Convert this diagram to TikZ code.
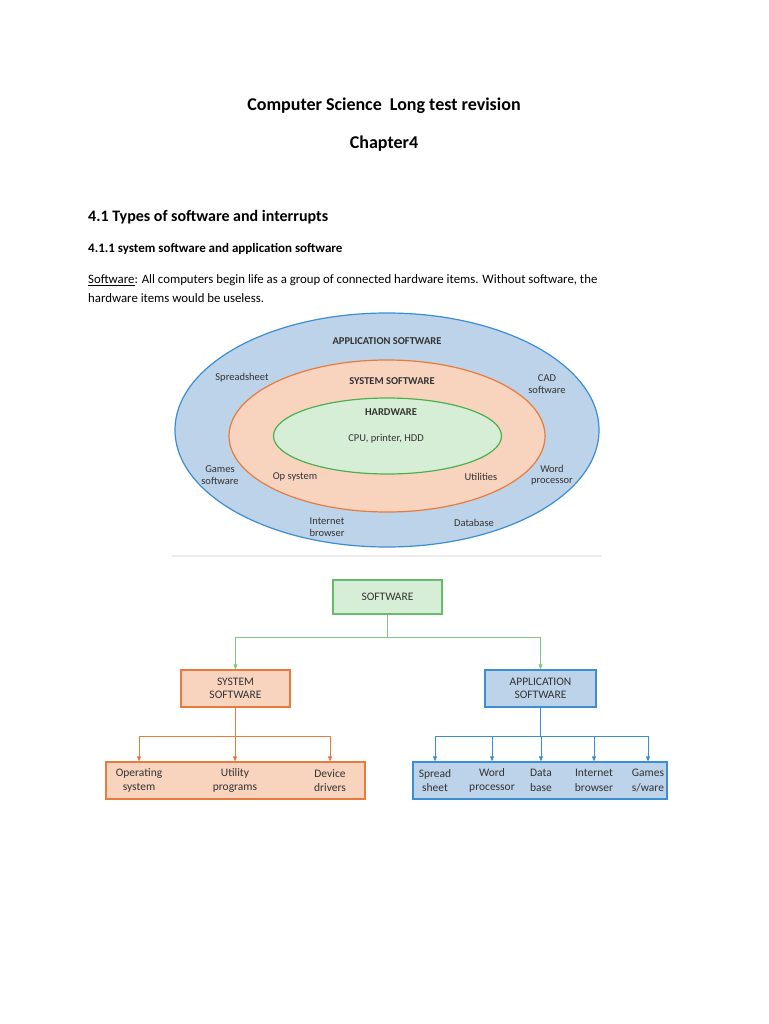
\documentclass[tikz,border=0pt]{standalone}
\usepackage{fontspec}
\setmainfont{Carlito}
\usetikzlibrary{arrows.meta}
\definecolor{bfill}{HTML}{BDD3EA}\definecolor{bline}{HTML}{3B8ED0}
\definecolor{ofill}{HTML}{F8D3BE}\definecolor{oline}{HTML}{E87A3E}
\definecolor{gfill}{HTML}{D6EDD6}\definecolor{gline}{HTML}{4CB050}
\definecolor{txt}{HTML}{333333}
\tikzset{
 lab/.style={font=\fontsize{10.5}{11.5}\selectfont,text=txt,align=center,inner sep=0},
 blab/.style={font=\fontsize{10.5}{12}\selectfont\bfseries,text=txt,inner sep=0},
 tbox/.style={draw,line width=1.2pt,font=\fontsize{11.5}{13}\selectfont,text=txt,align=center,inner sep=0},
 blab2/.style={font=\fontsize{11.5}{14.5}\selectfont,text=txt,align=center,inner sep=0},
 conn/.style={line width=0.8pt,-{Triangle[length=5pt,width=4pt]}},
 plain/.style={line width=0.8pt}
}
\begin{document}
\begin{tikzpicture}[x=1pt,y=-1pt]
\useasboundingbox[fill=white] (0,0) rectangle (768,1024);
\node[font=\fontsize{18}{20}\selectfont\bfseries] (t1) at (384,106) {Computer Science\ \ Long test revision};
\node[font=\fontsize{18}{20}\selectfont\bfseries] (t2) at (384,144) {Chapter4};
\node[font=\fontsize{16}{18}\selectfont\bfseries,anchor=west,inner sep=0] (h1) at (88,217) {4.1 Types of software and interrupts};
\node[font=\fontsize{13}{15}\selectfont\bfseries,anchor=west,inner sep=0] (h2) at (88,249) {4.1.1 system software and application software};
\node[font=\fontsize{12.8}{15}\selectfont,anchor=west,inner sep=0] (p1) at (88,280) {\underline{Software}: All computers begin life as a group of connected hardware items. Without software, the};
\node[font=\fontsize{12.8}{15}\selectfont,anchor=west,inner sep=0] (p2) at (88,298) {hardware items would be useless.};
% ellipses
\draw[bline,fill=bfill,line width=1.2pt] (387,430) ellipse [x radius=212,y radius=117];
\draw[oline,fill=ofill,line width=1.2pt] (387,436) ellipse [x radius=158,y radius=76];
\draw[gline,fill=gfill,line width=1.2pt] (387.5,436) ellipse [x radius=114,y radius=38];
\draw[black!8,line width=1.5pt] (172,556) -- (602,556);
\node[blab] (a1) at (387,341) {APPLICATION SOFTWARE};
\node[lab] (a2) at (242,378) {Spreadsheet};
\node[blab] (a3) at (392,381) {SYSTEM SOFTWARE};
\node[lab] (a4) at (547,384) {CAD\\software};
\node[blab] (a5) at (391,412) {HARDWARE};
\node[lab] (a6) at (386,439) {CPU, printer, HDD};
\node[lab] (a7) at (220,475) {Games\\software};
\node[lab] (a8) at (295,477) {Op system};
\node[lab] (a9) at (481,477) {Utilities};
\node[lab] (a10) at (552,475) {Word\\processor};
\node[lab] (a11) at (327,527) {Internet\\browser};
\node[lab] (a12) at (474,523) {Database};
% tree
\node[tbox,draw=gline!85,fill=gfill,minimum width=109,minimum height=34] (sw) at (387.5,597) {SOFTWARE};
\node[tbox,draw=oline,fill=ofill,minimum width=109,minimum height=37] (ss) at (235.5,688.5) {SYSTEM\\SOFTWARE};
\node[tbox,draw=bline,fill=bfill,minimum width=111,minimum height=37] (as) at (540.5,688.5) {APPLICATION\\SOFTWARE};
\node[tbox,draw=oline,fill=ofill,minimum width=259,minimum height=37] (ob) at (235.5,780.5) {};
\node[tbox,draw=bline,fill=bfill,minimum width=254,minimum height=37] (bb) at (540,780.5) {};
\node[blab2] (o1) at (139,780.5) {Operating\\system};
\node[blab2] (o2) at (235,780.5) {Utility\\programs};
\node[blab2] (o3) at (330,780.5) {Device\\drivers};
\node[blab2] (b1) at (435,780.5) {Spread\\sheet};
\node[blab2] (b2) at (492,780.5) {Word\\processor};
\node[blab2] (b3) at (541,780.5) {Data\\base};
\node[blab2] (b4) at (594,780.5) {Internet\\browser};
\node[blab2] (b5) at (648,780.5) {Games\\s/ware};
% connectors
\coordinate (gj) at (387.5,637);
\draw[plain,gline!70] (sw.south) -- (gj);
\draw[conn,gline!70] (gj) -| (ss.north);
\draw[conn,gline!70] (gj) -| (as.north);
\coordinate (oj) at (235.5,736);
\draw[plain,oline] (ss.south) -- (oj);
\foreach \n in {o1,o2,o3}{\draw[conn,oline] (oj) -| (\n |- ob.north);}
\coordinate (bj) at (540.5,736);
\draw[plain,bline] (as.south) -- (bj);
\foreach \n in {b1,b2,b3,b4,b5}{\draw[conn,bline] (bj) -| (\n |- bb.north);}
\end{tikzpicture}
\end{document}
